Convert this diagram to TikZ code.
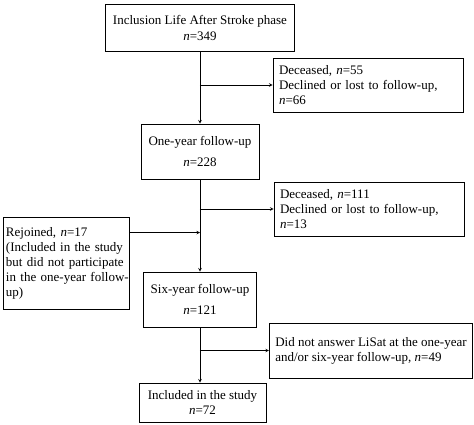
\documentclass[tikz,border=0pt]{standalone}
\usepackage{fontspec}
\setmainfont{Liberation Serif}
\usepackage{tikz}
\usetikzlibrary{shapes.geometric, arrows, calc}

\begin{document}
\begin{tikzpicture}[node distance=124pt, every node/.style={font=\fontsize{13}{15}\selectfont}]
    \tikzstyle{mainbox} = [rectangle, draw=black, align=center, inner sep=4pt, thick]
    \tikzstyle{sidebox} = [rectangle, draw=black, align=left, inner xsep=6pt, thick]
    \tikzstyle{arrow} = [semithick,->,>=stealth]
    \tikzstyle{line} = [thin]
    \useasboundingbox (-200pt,27.5pt) rectangle (274pt,-396.5pt);
    % Nodes
    \node (inclusion) [mainbox, minimum width=189pt, minimum height=47pt] {Inclusion Life After Stroke phase\\[1pt] \textit{n}=349};
    \node (lost1) [sidebox, right of=inclusion, xshift=44pt, yshift=-57.5pt, text width=178pt, minimum height=54pt] {Deceased, \textit{n}=55\\ Declined or lost to follow-up,\\ \textit{n}=66};
    \node (oneyear) [mainbox, below of=inclusion, minimum width=118pt, minimum height=55pt] {One-year follow-up\\[6pt] \textit{n}=228};
    \node (lost2) [sidebox, right of=oneyear, xshift=45pt, yshift=-57.5pt, text width=178pt, minimum height=54pt] {Deceased, \textit{n}=111\\ Declined or lost to follow-up,\\ \textit{n}=13};
    \node (rejoined) [sidebox, left of=oneyear, xshift=-10pt, yshift=-111.5pt, inner xsep=3pt, text width=120pt, minimum height=92pt] {Rejoined, \textit{n}=17\\ \mbox{(Included in the study}\\ \mbox{but did not participate}\\ \mbox{in the one-year follow-}\\ up)};
    \node (sixyear) [mainbox, below of=oneyear, yshift=-24pt, minimum width=113pt, minimum height=55pt] {Six-year follow-up\\[6pt] \textit{n}=121};
    \node (noanswer) [sidebox, right of=sixyear, xshift=47pt, yshift=-51pt, minimum width=198pt, minimum height=55pt] {Did not answer LiSat at the one-year\\ and/or six-year follow-up, \textit{n}=49};
    \node (included) [mainbox, below of=sixyear, yshift=21pt, xshift=2.5pt, minimum width=127pt, minimum height=39pt] {Included in the study\\ \textit{n}=72};
    % Arrows
    \draw [arrow] (inclusion) -- (oneyear);
    \draw [arrow] (inclusion |- lost1) -- (lost1);
    \draw [arrow] (oneyear) -- (sixyear);
    \draw [arrow] (oneyear |- lost2) -- (lost2);
    \coordinate (rejoin) at ($(rejoined.north east) + (0pt,-16pt)$);
    \draw [arrow] (rejoin) -- (rejoin -| oneyear);
    \draw [arrow] (sixyear) -- (sixyear |- included.north);
    \draw [arrow] (sixyear |- noanswer) -- (noanswer);
\end{tikzpicture}
\end{document}
